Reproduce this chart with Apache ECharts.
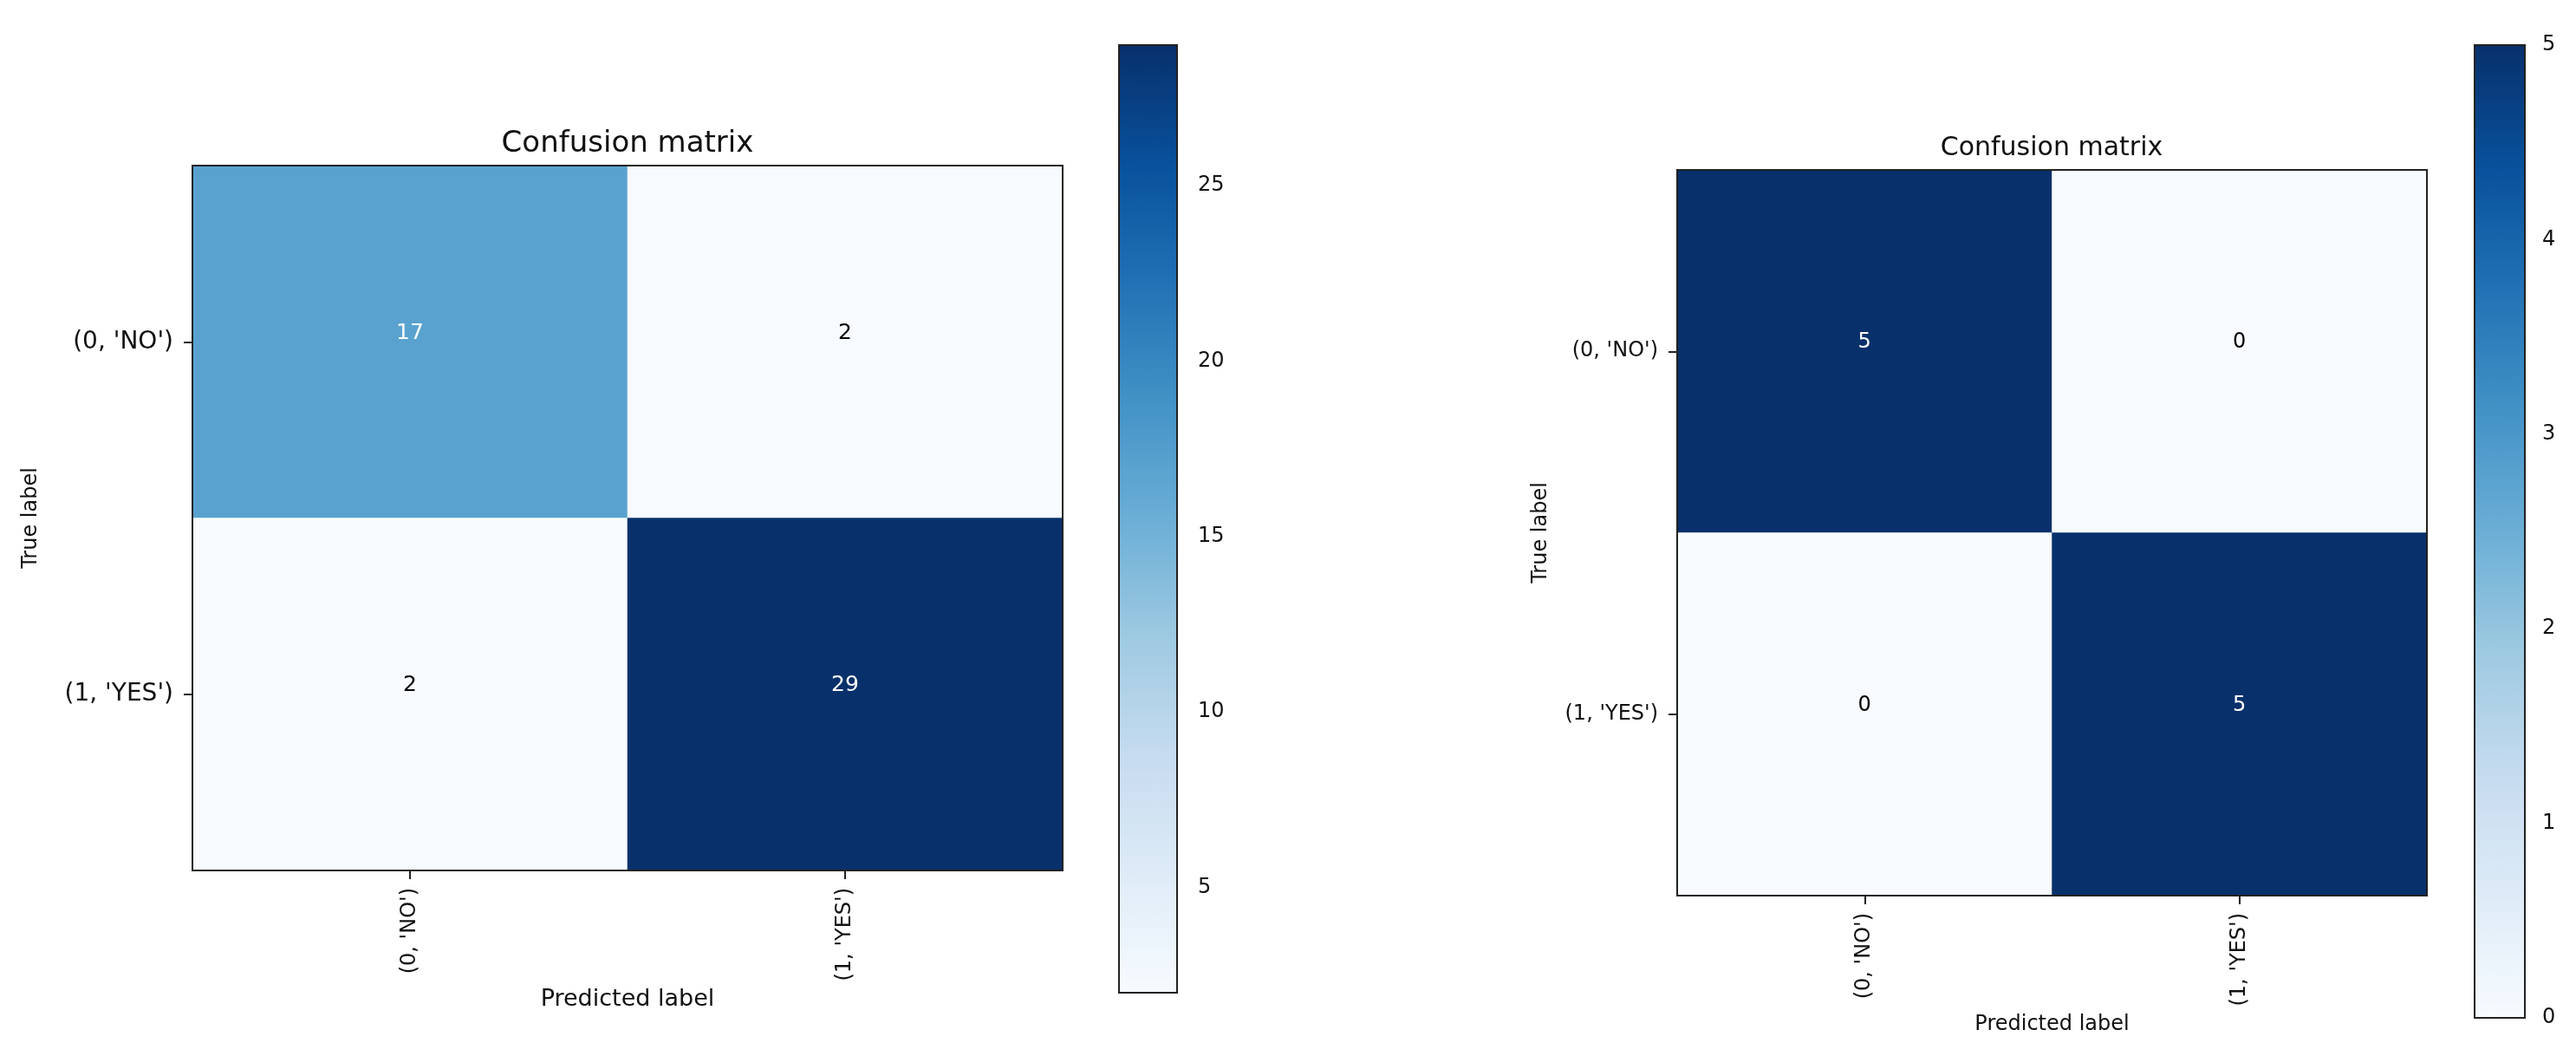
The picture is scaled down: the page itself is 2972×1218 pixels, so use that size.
<!DOCTYPE html>
<html>
<head>
<meta charset="utf-8">
<script src="https://cdn.jsdelivr.net/npm/echarts@6/dist/echarts.min.js"></script>
<style>html,body{margin:0;padding:0;background:#fff;}#c{width:2972px;height:1218px;}</style>
</head>
<body>
<div id="c"></div>
<script>
const classLabels = ["(0, 'NO')", "(1, 'YES')"];
const cmLeft = [[17, 2], [2, 29]];
const cmRight = [[5, 0], [0, 5]];
const cbTicksLeft = [5, 10, 15, 20, 25];
const cbTicksRight = [0, 1, 2, 3, 4, 5];
const titleText = 'Confusion matrix';
const xName = 'Predicted label';
const yName = 'True label';
const blues = ['#f7fbff','#deebf7','#c6dbef','#9ecae1','#6baed6','#4292c6','#2171b5','#08519c','#08306b'];

const FONT = 'DejaVu Sans';
function flat(cm) {
  let mn = Infinity, mx = -Infinity;
  cm.forEach(r => r.forEach(v => { mn = Math.min(mn, v); mx = Math.max(mx, v); }));
  const out = [];
  cm.forEach((row, i) => row.forEach((v, j) => {
    out.push({ value: [j, i, v], label: { color: v > mx / 2 ? '#ffffff' : '#000000' } });
  }));
  return { data: out, min: mn, max: mx };
}
const L = flat(cmLeft), R = flat(cmRight);

const chart = echarts.init(document.getElementById('c'), null, { renderer: 'canvas' });

function catAxisX(gi, fs, name, gap, nfs) {
  return {
    type: 'category', gridIndex: gi, data: classLabels, position: 'bottom',
    axisLine: { show: false }, splitLine: { show: false },
    axisTick: { show: true, alignWithLabel: true, length: 10, lineStyle: { color: '#222', width: 2 } },
    axisLabel: { rotate: 90, margin: 20, fontSize: fs, fontFamily: FONT, color: '#111' },
    name: name, nameLocation: 'middle', nameGap: gap,
    nameTextStyle: { fontSize: nfs, fontFamily: FONT, color: '#111' }
  };
}
function catAxisY(gi, fs, name, gap, nfs) {
  return {
    type: 'category', gridIndex: gi, data: classLabels, inverse: true,
    axisLine: { show: false }, splitLine: { show: false },
    axisTick: { show: true, alignWithLabel: true, length: 10, lineStyle: { color: '#222', width: 2 } },
    axisLabel: { margin: 22, fontSize: fs, fontFamily: FONT, color: '#111' },
    name: name, nameLocation: 'middle', nameGap: gap, nameRotate: 90,
    nameTextStyle: { fontSize: nfs, fontFamily: FONT, color: '#111' }
  };
}
function cbAxisY(gi, mn, mx, ticks, margin, tlen) {
  return {
    type: 'value', gridIndex: gi, min: mn, max: mx, position: 'right',
    axisLine: { show: false }, splitLine: { show: false },
    axisTick: { show: true, length: tlen, customValues: ticks, lineStyle: { color: '#222', width: 2 } },
    axisLabel: { margin: margin, fontSize: 24, fontFamily: FONT, color: '#111', customValues: ticks }
  };
}
const gridBorder = { show: true, borderColor: '#222', borderWidth: 2, backgroundColor: 'transparent', z: 10 };

const option = {
  backgroundColor: '#ffffff',
  animation: false,
  title: [
    { text: titleText, left: 724, top: 149, textAlign: 'center', padding: 0,
      textStyle: { fontSize: 34, fontWeight: 'normal', fontFamily: FONT, color: '#111' } },
    { text: titleText, left: 2367, top: 156, textAlign: 'center', padding: 0,
      textStyle: { fontSize: 30, fontWeight: 'normal', fontFamily: FONT, color: '#111' } }
  ],
  grid: [
    Object.assign({ left: 222, top: 191, width: 1004, height: 813 }, gridBorder),
    Object.assign({ left: 1935, top: 196, width: 865, height: 837 }, gridBorder),
    Object.assign({ left: 1291, top: 52, width: 67, height: 1093 }, gridBorder),
    Object.assign({ left: 2855, top: 52, width: 58, height: 1122 }, gridBorder)
  ],
  xAxis: [
    catAxisX(0, 24, xName, 132, 27),
    catAxisX(1, 24, xName, 137, 24),
    { type: 'value', gridIndex: 2, show: false },
    { type: 'value', gridIndex: 3, show: false }
  ],
  yAxis: [
    catAxisY(0, 28, yName, 174, 24),
    catAxisY(1, 24, yName, 145, 24),
    cbAxisY(2, L.min, L.max, cbTicksLeft, 24, 12),
    cbAxisY(3, R.min, R.max, cbTicksRight, 20, 10)
  ],
  visualMap: [
    { type: 'continuous', seriesIndex: 0, min: L.min, max: L.max, calculable: false,
      left: 1291, top: 52, itemWidth: 67, itemHeight: 1093, padding: 0, text: null, showLabel: false,
      inRange: { color: blues }, hoverLink: false },
    { type: 'continuous', seriesIndex: 1, min: R.min, max: R.max, calculable: false,
      left: 2855, top: 52, itemWidth: 58, itemHeight: 1122, padding: 0, text: null, showLabel: false,
      inRange: { color: blues }, hoverLink: false }
  ],
  series: [
    { type: 'heatmap', xAxisIndex: 0, yAxisIndex: 0, data: L.data,
      itemStyle: { borderWidth: 0 },
      label: { show: true, fontSize: 25, fontFamily: FONT, offset: [0, -10],
        formatter: p => String(p.value[2]) },
      emphasis: { disabled: true } },
    { type: 'heatmap', xAxisIndex: 1, yAxisIndex: 1, data: R.data,
      itemStyle: { borderWidth: 0 },
      label: { show: true, fontSize: 24, fontFamily: FONT, offset: [0, -10],
        formatter: p => String(p.value[2]) },
      emphasis: { disabled: true } }
  ]
};
chart.setOption(option);
</script>
</body>
</html>
